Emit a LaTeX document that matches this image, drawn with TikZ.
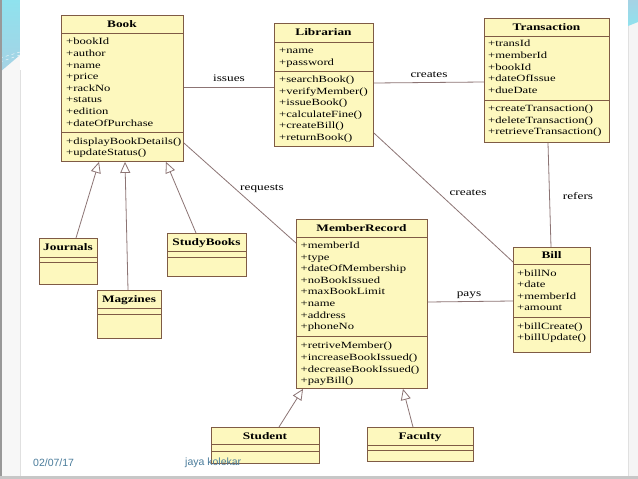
\documentclass[tikz,border=0pt]{standalone}
\usepackage{fontspec}
\setmainfont{Liberation Serif}[FakeStretch=1.33]
\newfontfamily\footfont{Liberation Sans}
\usetikzlibrary{arrows.meta}
\definecolor{boxfill}{HTML}{FDF8BE}
\definecolor{bord}{HTML}{7F5B45}
\definecolor{conn}{HTML}{8C7474}
\definecolor{foot}{HTML}{4A7C9B}
\definecolor{bandblue}{HTML}{8FE2EE}
\definecolor{bandblue2}{HTML}{A6D2E4}
\tikzset{
  cls/.style={draw=bord, fill=boxfill, line width=0.9pt, inner sep=0pt, anchor=north west},
  ttl/.style={font=\fontsize{10}{12}\selectfont\bfseries, inner sep=0pt, text height=6.8pt, text depth=0pt},
  lst/.style={font=\fontsize{9.5}{11.6}\selectfont, align=left, inner sep=0pt, anchor=north west},
  lbl/.style={font=\fontsize{10}{12}\selectfont, inner sep=0pt, text height=6pt, text depth=0pt},
  sepl/.style={draw=bord, line width=0.9pt},
  assoc/.style={draw=conn, line width=0.8pt},
  gen/.style={assoc, -{Triangle[open, length=11pt, width=10pt, fill=white]}},
  foottxt/.style={font=\footfont\fontsize{10.5}{12}\selectfont, text=foot, inner sep=0pt, anchor=west}
}
\begin{document}
\begin{tikzpicture}[x=1pt,y=-1pt]
\useasboundingbox (0,0) rectangle (638,479);
% slide background
\fill[white] (0,0) rectangle (638,479);
\fill[black!3] (0,0) rectangle (20,479);
\fill[black!4] (628,0) rectangle (638,479);
\shade[top color=bandblue, bottom color=bandblue2] (0,0) -- (20,0) -- (20,55) -- (0,72) -- cycle;
\draw[white, dashed, line width=0.4pt] (0,58) -- (20,52);
\draw[white, dashed, line width=0.4pt] (0,62) -- (20,55);
\shade[top color=bandblue2, bottom color=bandblue] (628,0) -- (638,0) -- (638,22) -- (628,26) -- cycle;
\draw[black!40, line width=1.5pt] (0.75,0) -- (0.75,479);
\draw[black!12, line width=0.6pt] (20,70) -- (20,476);
\draw[black!12, line width=0.6pt] (628,26) -- (628,476);
\fill[black!22] (0,476) rectangle (638,479);

% ---------- Book ----------
\node[cls, minimum width=122pt, minimum height=146pt] (book) at (61,15) {};
\draw[sepl] (book.west |- 0,33) -- (book.east |- 0,33);
\draw[sepl] (book.west |- 0,132) -- (book.east |- 0,132);
\node[ttl] (booktitle) at (122,24) {Book};
\node[lst] (bookattrs) at (66,36.6) {\strut+bookId\\+author\\+name\\+price\\+rackNo\\+status\\+edition\\+dateOfPurchase};
\node[lst] (bookops) at (66,135.8) {\strut+displayBookDetails()\\+updateStatus()};

% ---------- Librarian ----------
\node[cls, minimum width=99pt, minimum height=123pt] (lib) at (274,23) {};
\draw[sepl] (lib.west |- 0,42) -- (lib.east |- 0,42);
\draw[sepl] (lib.west |- 0,71) -- (lib.east |- 0,71);
\node[ttl] (libtitle) at (323.5,32.5) {Librarian};
\node[lst] (libattrs) at (279,45.1) {\strut+name\\+password};
\node[lst] (libops) at (279,74.1) {\strut+searchBook()\\+verifyMember()\\+issueBook()\\+calculateFine()\\+createBill()\\+returnBook()};

% ---------- Transaction ----------
\node[cls, minimum width=125pt, minimum height=124pt] (trans) at (484,18) {};
\draw[sepl] (trans.west |- 0,36) -- (trans.east |- 0,36);
\draw[sepl] (trans.west |- 0,100) -- (trans.east |- 0,100);
\node[ttl] (transtitle) at (546.5,27) {Transaction};
\node[lst] (transattrs) at (488,38.6) {\strut+transId\\+memberId\\+bookId\\+dateOfIssue\\+dueDate};
\node[lst] (transops) at (488,103.4) {\strut+createTransaction()\\+deleteTransaction()\\+retrieveTransaction()};

% ---------- MemberRecord ----------
\node[cls, minimum width=131pt, minimum height=169pt] (mr) at (296,219) {};
\draw[sepl] (mr.west |- 0,237) -- (mr.east |- 0,237);
\draw[sepl] (mr.west |- 0,336) -- (mr.east |- 0,336);
\node[ttl] (mrtitle) at (361.5,228) {MemberRecord};
\node[lst] (mrattrs) at (300.5,240.1) {\strut+memberId\\+type\\+dateOfMembership\\+noBookIssued\\+maxBookLimit\\+name\\+address\\+phoneNo};
\node[lst] (mrops) at (300.5,340.6) {\strut+retriveMember()\\+increaseBookIssued()\\+decreaseBookIssued()\\+payBill()};

% ---------- Bill ----------
\node[cls, minimum width=77pt, minimum height=105pt] (bill) at (513,247) {};
\draw[sepl] (bill.west |- 0,264) -- (bill.east |- 0,264);
\draw[sepl] (bill.west |- 0,317) -- (bill.east |- 0,317);
\node[ttl] (billtitle) at (551.5,255.5) {Bill};
\node[lst] (billattrs) at (517,267.8) {\strut+billNo\\+date\\+memberId\\+amount};
\node[lst] (billops) at (517,320.8) {\strut+billCreate()\\+billUpdate()};

% ---------- empty classes ----------
\node[cls, minimum width=58pt, minimum height=46pt] (jour) at (39,238) {};
\draw[sepl] (jour.west |- 0,257) -- (jour.east |- 0,257);
\draw[sepl] (jour.west |- 0,262) -- (jour.east |- 0,262);
\node[ttl] (jourtitle) at (68,247) {Journals};

\node[cls, minimum width=64pt, minimum height=48pt] (mag) at (97,290) {};
\draw[sepl] (mag.west |- 0,308) -- (mag.east |- 0,308);
\draw[sepl] (mag.west |- 0,314) -- (mag.east |- 0,314);
\node[ttl] (magtitle) at (129,299) {Magzines};

\node[cls, minimum width=79pt, minimum height=43pt] (sb) at (167,233) {};
\draw[sepl] (sb.west |- 0,251) -- (sb.east |- 0,251);
\draw[sepl] (sb.west |- 0,257) -- (sb.east |- 0,257);
\node[ttl] (sbtitle) at (206.5,242) {StudyBooks};

\node[cls, minimum width=108pt, minimum height=36pt] (stu) at (211,427) {};
\draw[sepl] (stu.west |- 0,444) -- (stu.east |- 0,444);
\draw[sepl] (stu.west |- 0,451) -- (stu.east |- 0,451);
\node[ttl] (stutitle) at (265,436) {Student};

\node[cls, minimum width=106pt, minimum height=34pt] (fac) at (367,427) {};
\draw[sepl] (fac.west |- 0,445) -- (fac.east |- 0,445);
\draw[sepl] (fac.west |- 0,450) -- (fac.east |- 0,450);
\node[ttl] (factitle) at (420,436) {Faculty};

% ---------- associations ----------
\draw[assoc] (book.east |- 0,87) -- (lib.west |- 0,87);
\node[lbl] (lissues) at (229,78) {issues};
\draw[assoc] (lib.east |- 0,83) -- (trans.west |- 0,82);
\node[lbl] (lcreates1) at (429,74) {creates};
\draw[assoc] (lib.east |- 0,133) -- (bill.west |- 0,262);
\node[lbl] (lcreates2) at (468,192) {creates};
\draw[assoc] (trans.south -| 548,0) -- (bill.north -| 551,0);
\node[lbl] (lrefers) at (578,196) {refers};
\draw[assoc] (mr.east |- 0,302) -- (bill.west |- 0,301);
\node[lbl] (lpays) at (469,293) {pays};
\draw[assoc] (book.east |- 0,143) -- (mr.west |- 0,243);
\node[lbl] (lrequests) at (262,187) {requests};

% ---------- generalizations ----------
\draw[gen] (jour.north -| 76,0) -- (book.south -| 99,0);
\draw[gen] (mag.north -| 128,0) -- (book.south -| 125,0);
\draw[gen] (sb.north -| 196,0) -- (book.south -| 166,0);
\draw[gen] (stu.north -| 279,0) -- (mr.south -| 303,0);
\draw[gen] (fac.north -| 413,0) -- (mr.south -| 403,0);

% ---------- footer ----------
\node[foottxt] (fdate) at (33,463) {02/07/17};
\node[foottxt] (fauthor) at (185,463) {jaya kolekar};
\end{tikzpicture}
\end{document}
